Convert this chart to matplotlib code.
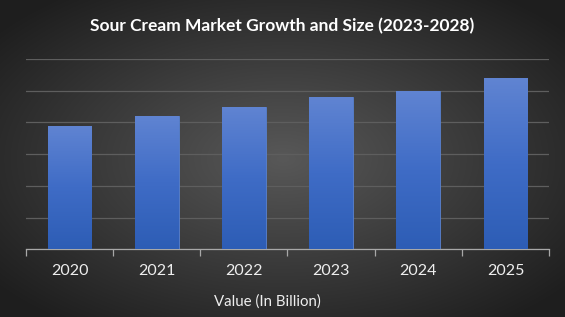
import numpy as np
import matplotlib
matplotlib.use("Agg")
import matplotlib.pyplot as plt
from matplotlib.colors import LinearSegmentedColormap

years = ["2020", "2021", "2022", "2023", "2024", "2025"]
values = [3.89, 4.20, 4.49, 4.79, 4.99, 5.39]
title = "Sour Cream Market Growth and Size (2023-2028)"
xlabel = "Value (In Billion)"

W, H, DPI = 565, 317, 100
fig = plt.figure(figsize=(W / DPI, H / DPI), dpi=DPI)

# radial gradient background
bg = fig.add_axes([0, 0, 1, 1])
yy, xx = np.mgrid[0:H, 0:W]
r = np.sqrt(((xx - W / 2) / (W / 2)) ** 2 + ((yy - H / 2) / (H / 2)) ** 2)
r = np.clip(r / 1.3, 0, 1)
c0 = np.array([0x58, 0x58, 0x58]) / 255
c1 = np.array([0x1e, 0x1e, 0x1e]) / 255
img = c0[None, None, :] * (1 - r[..., None]) + c1[None, None, :] * r[..., None]
bg.imshow(img, aspect="auto", extent=[0, 1, 0, 1], origin="upper")
bg.set_axis_off()

font = ["Lato", "DejaVu Sans"]
ax = fig.add_axes([26 / W, 1 - 249.3 / H, (549 - 26) / W, (249.3 - 59) / H])
ax.patch.set_alpha(0)
x = np.arange(len(years))
bars = ax.bar(x, values, width=0.5, color="#3d6cc5", edgecolor="#5a82cf", linewidth=0.6, zorder=3)

cmap = LinearSegmentedColormap.from_list("bb", ["#2d5db5", "#3f6cc6", "#6084d2"])
grad = np.linspace(0, 1, 256).reshape(-1, 1)
for b in bars:
    bx, by = b.get_x(), b.get_y()
    bw, bh = b.get_width(), b.get_height()
    im = ax.imshow(grad, cmap=cmap, origin="lower", aspect="auto",
                   extent=[bx, bx + bw, by, by + bh], zorder=3.5)
    im.set_clip_path(b)

ax.set_xlim(-0.5, len(years) - 0.5)
ax.set_ylim(0, 6)
ax.set_yticks(np.arange(0, 7, 1))
ax.yaxis.grid(True, color="#5e5e5e", linewidth=0.9, zorder=0)
ax.tick_params(axis="y", left=False, labelleft=False)
for s in ["top", "right", "left"]:
    ax.spines[s].set_visible(False)
ax.spines["bottom"].set_color("#a8a8a8")
ax.spines["bottom"].set_linewidth(0.9)
ax.set_xticks(x)
ax.set_xticklabels(years, color="#eeeeee", fontsize=11.5, family=font)
ax.tick_params(axis="x", length=0, pad=10.5)
ax.set_xticks(np.arange(-0.5, len(years), 1), minor=True)
ax.tick_params(axis="x", which="minor", length=5, color="#a8a8a8", width=0.9)
ax.set_xlabel(xlabel, color="#eeeeee", fontsize=10.8, family=font)
ax.xaxis.set_label_coords((267.5 - 26) / 523, 1 - (301.5 - 59) / (249.3 - 59))
ax.xaxis.label.set_va("center")

fig.text(282 / W, 1 - 26 / H, title, color="white", fontsize=12.5, fontweight="bold",
         family=font, ha="center", va="center")

fig.savefig("out.png", dpi=DPI)
